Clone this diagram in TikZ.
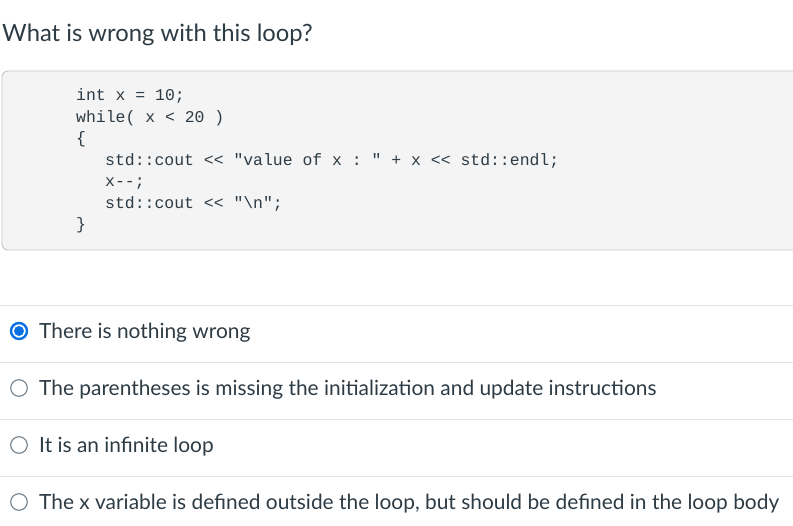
\documentclass[tikz,border=0pt]{standalone}
\usepackage{fontspec}
\setmainfont{Lato}
\setmonofont{Liberation Mono}
\definecolor{txt}{HTML}{2D3B45}
\definecolor{codebg}{HTML}{F4F4F4}
\definecolor{codeln}{HTML}{BFC5C9}
\definecolor{sep}{HTML}{E0E3E5}
\definecolor{blue}{HTML}{0770E3}
\definecolor{radio}{HTML}{73818C}
\begin{document}
\begin{tikzpicture}[x=1pt,y=-1pt,
  opt/.style={anchor=west,inner sep=0,font=\fontsize{20.9}{24}\selectfont,text=txt},
  code/.style={anchor=base west,inner sep=0,font=\ttfamily\fontsize{16.45}{20}\selectfont,text=txt}]
\useasboundingbox (0,0) rectangle (793,526);
\node[anchor=west,inner sep=0,font=\fontsize{23.8}{28}\selectfont,text=txt] (title) at (2,34.5) {What is wrong with this loop?};
\draw[codeln,line width=0.9,fill=codebg,rounded corners=6] (2,71) rectangle (800,250);
\node[code] (c1) at (76,101) {int x = 10;};
\node[code] (c2) at (76,122.5) {while( x < 20 )};
\node[code] (c3) at (76,144) {\{};
\node[code] (c4) at (105,165.5) {std::cout << "value of x : " + x << std::endl;};
\node[code] (c5) at (105,187) {x--;};
\node[code] (c6) at (105,208.5) {std::cout << "\textbackslash n";};
\node[code] (c7) at (76,230) {\}};
\foreach \y in {305,362,419,476} \draw[sep] (0,\y) -- (793,\y);
\draw[blue,line width=2.4] (19,331) circle (8);
\fill[blue] (19,331) circle (5);
\foreach \y in {388,445,502} \draw[radio,line width=1.1] (19,\y) circle (8.3);
\node[opt] (o1) at (39,332.5) {There is nothing wrong};
\node[opt] (o2) at (39,389.5) {The parentheses is missing the initialization and update instructions};
\node[opt] (o3) at (39,446.5) {It is an infinite loop};
\node[opt] (o4) at (39,503.5) {The x variable is defined outside the loop, but should be defined in the loop body};
\end{tikzpicture}
\end{document}
